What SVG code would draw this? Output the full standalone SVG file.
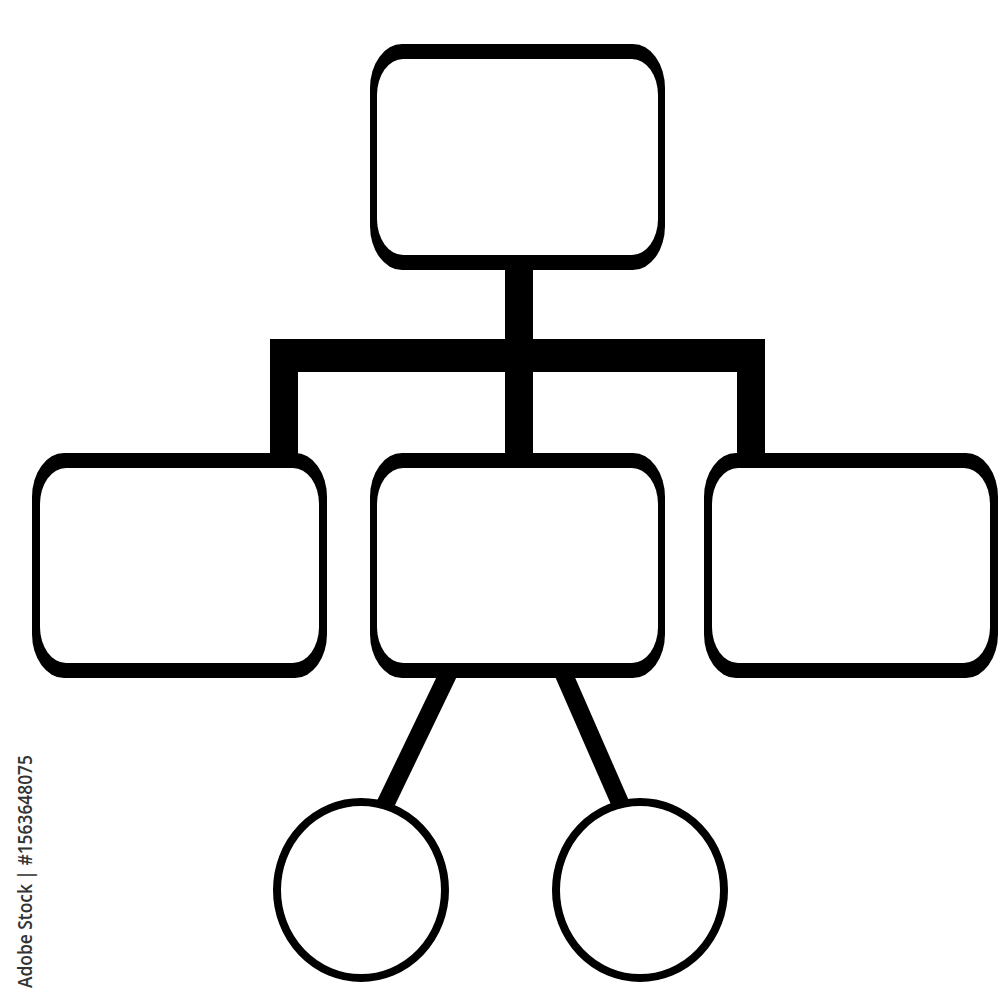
<svg xmlns="http://www.w3.org/2000/svg" width="1000" height="1000" viewBox="0 0 1000 1000">
  <style>
    .outer { fill: #000; }
    .inner { fill: #fff; }
    .bar { fill: #000; }
    .leg { stroke: #000; stroke-width: 18; stroke-linecap: butt; }
    .circ { fill: #fff; stroke: #000; stroke-width: 8; }
    .wm { font-family: "Open Sans", "Liberation Sans", sans-serif; font-size: 20px; font-weight: 600; fill: #333; }
  </style>
  <rect width="1000" height="1000" fill="#fff"/>
  <g id="connectors">
    <rect class="bar" x="505" y="262" width="28" height="80"/>
    <rect class="bar" x="270" y="339" width="495" height="33"/>
    <rect class="bar" x="270" y="339" width="28" height="120"/>
    <rect class="bar" x="505" y="339" width="28" height="120"/>
    <rect class="bar" x="737" y="339" width="28" height="120"/>
    <line class="leg" x1="450" y1="670" x2="385" y2="805"/>
    <line class="leg" x1="562" y1="670" x2="621" y2="805"/>
  </g>
  <g id="node-top">
    <rect class="outer" x="370" y="44" width="295" height="226" rx="32" ry="44"/>
    <rect class="inner" x="377" y="59" width="281" height="196" rx="26" ry="36"/>
  </g>
  <g id="node-left">
    <rect class="outer" x="32" y="453" width="295" height="225" rx="32" ry="44"/>
    <rect class="inner" x="40" y="468" width="279" height="195" rx="26" ry="36"/>
  </g>
  <g id="node-middle">
    <rect class="outer" x="370" y="453" width="295" height="225" rx="32" ry="44"/>
    <rect class="inner" x="377" y="468" width="281" height="195" rx="26" ry="36"/>
  </g>
  <g id="node-right">
    <rect class="outer" x="704" y="453" width="294" height="225" rx="32" ry="44"/>
    <rect class="inner" x="712" y="468" width="278" height="195" rx="26" ry="36"/>
  </g>
  <g id="node-circle-left">
    <ellipse class="circ" cx="361" cy="890" rx="84" ry="88"/>
  </g>
  <g id="node-circle-right">
    <ellipse class="circ" cx="640" cy="890" rx="84" ry="88"/>
  </g>
  <text class="wm" transform="translate(32,988) rotate(-90)" textLength="233" lengthAdjust="spacingAndGlyphs">Adobe Stock | #1563648075</text>
</svg>
